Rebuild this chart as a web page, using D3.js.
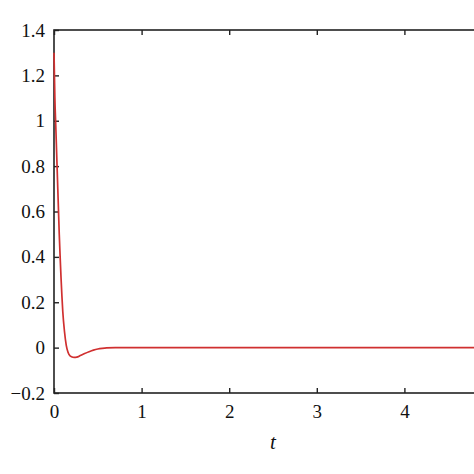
<!DOCTYPE html>
<html>
<head>
<meta charset="utf-8">
<script src="https://cdn.jsdelivr.net/npm/d3@7"></script>
<style>
  body { margin: 0; background: #fff; }
  svg { display: block; }
</style>
</head>
<body>
<svg id="chart" width="474" height="474"></svg>
<script>
// response curve
var tVals = [0, 0.005, 0.01, 0.02, 0.03, 0.04, 0.05, 0.06, 0.07, 0.08, 0.09, 0.1, 0.12, 0.14, 0.16, 0.18, 0.2, 0.23, 0.26, 0.3, 0.35, 0.4, 0.45, 0.5, 0.55, 0.6, 0.7, 0.8, 1, 2, 3, 4, 5];
var yVals = [1.3, 1.2, 1.1, 0.98, 0.86, 0.74, 0.62, 0.5, 0.4, 0.31, 0.23, 0.16, 0.07, 0.01, -0.02, -0.035, -0.04, -0.043, -0.042, -0.035, -0.026, -0.018, -0.011, -0.006, -0.003, -0.001, 0, 0, 0, 0, 0, 0, 0];
var xTicks = [0, 1, 2, 3, 4];
var yTicks = [-0.2, 0, 0.2, 0.4, 0.6, 0.8, 1, 1.2, 1.4];

var margin = {top: 30, left: 54},
    plotW = 438, plotH = 363;

var svg = d3.select('#chart');
var g = svg.append('g').attr('transform', 'translate(' + margin.left + ',' + margin.top + ')');

var x = d3.scaleLinear().domain([0, 5]).range([0, plotW]);
var y = d3.scaleLinear().domain([-0.2, 1.4]).range([plotH, 0]);

function fmt(d) { return d < 0 ? '\u2212' + Math.abs(d) : '' + d; }

// box
g.append('rect')
  .attr('width', plotW).attr('height', plotH)
  .attr('fill', 'none').attr('stroke', '#222').attr('stroke-width', 1.6);

g.append('g').attr('transform', 'translate(0,' + plotH + ')')
  .call(d3.axisBottom(x).tickValues(xTicks).tickSize(-5).tickPadding(12).tickFormat(fmt));
g.append('g')
  .call(d3.axisLeft(y).tickValues(yTicks).tickSize(-5).tickPadding(9).tickFormat(fmt));
// top ticks
g.append('g')
  .call(d3.axisTop(x).tickValues(xTicks).tickSize(-5).tickFormat(''));

g.selectAll('.domain').remove();
g.selectAll('.tick line').attr('stroke', '#222').attr('stroke-width', 1.4);
g.selectAll('.tick text')
  .attr('font-family', 'Liberation Serif')
  .attr('font-size', 19)
  .attr('fill', '#111');

var line = d3.line()
  .x(function(d, i) { return x(tVals[i]); })
  .y(function(d) { return y(d); })
  .curve(d3.curveMonotoneX);

g.append('path')
  .datum(yVals)
  .attr('d', line)
  .attr('fill', 'none')
  .attr('stroke', '#d03030')
  .attr('stroke-width', 1.7);

svg.append('text')
  .attr('x', 273).attr('y', 449)
  .attr('text-anchor', 'middle')
  .attr('font-family', 'Liberation Serif')
  .attr('font-style', 'italic')
  .attr('font-size', 21)
  .attr('fill', '#111')
  .text('t');
</script>
</body>
</html>
